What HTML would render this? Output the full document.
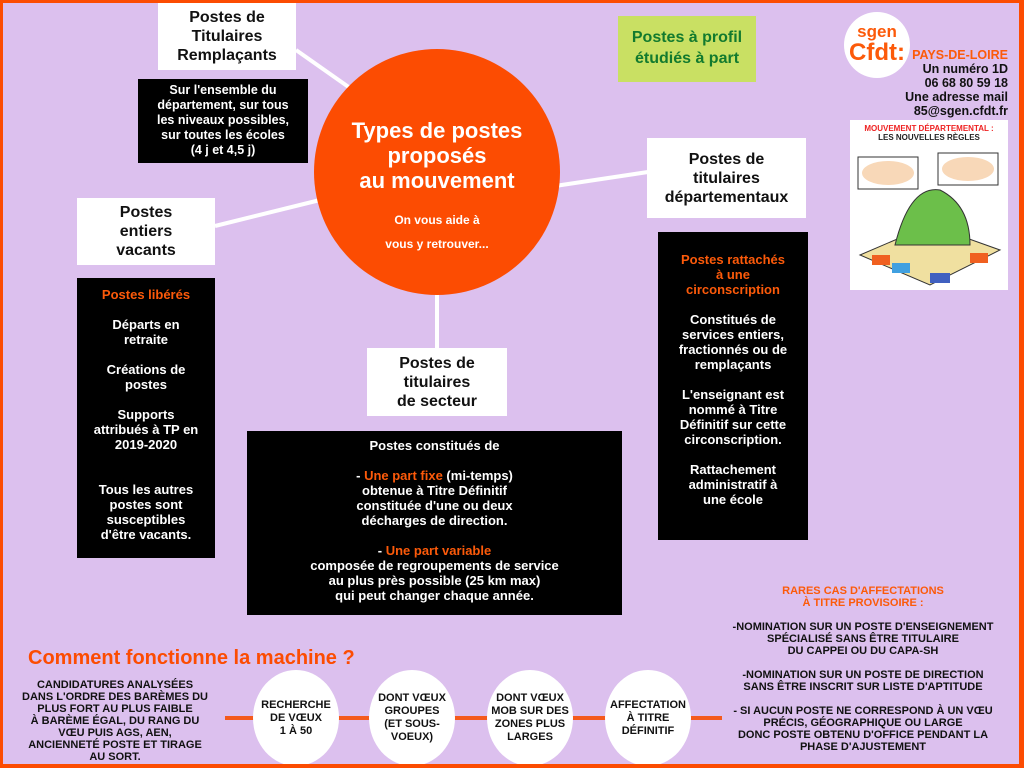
<!DOCTYPE html>
<html><head><meta charset="utf-8"><style>
*{margin:0;padding:0;box-sizing:border-box}
body{width:1024px;height:768px;overflow:hidden;background:#dcc0ee;font-family:"Liberation Sans",sans-serif;font-weight:bold;position:relative}
.frame{position:absolute;left:0;top:0;width:1024px;height:768px;border:3px solid #fc4c02;border-right-width:5px;border-bottom-width:4px}
.a{position:absolute;text-align:center}
.w{background:#fff;color:#111;font-size:16px;line-height:19px;display:flex;align-items:center;justify-content:center}
.k{background:#000;color:#fff;font-size:13px;line-height:15px}
.o{color:#fc5a0a}
.ell{position:absolute;background:#fff;border-radius:50%;width:86px;height:96px;top:670px;display:flex;align-items:center;justify-content:center;font-size:11px;line-height:13px;text-align:center;color:#111}
.s{font-size:11px;line-height:12px;color:#111}
</style></head><body>
<svg style="position:absolute;left:0;top:0" width="1024" height="768">
<g stroke="#fff" stroke-width="4">
<line x1="296" y1="50" x2="350" y2="88"/>
<line x1="215" y1="226" x2="320" y2="200"/>
<line x1="555" y1="186" x2="648" y2="172"/>
<line x1="437" y1="290" x2="437" y2="350"/>
</g>
<line x1="225" y1="718" x2="722" y2="718" stroke="#f45a1c" stroke-width="4"/>
<circle cx="437" cy="172" r="123" fill="#fc4c02"/>
</svg>
<div class="a" style="left:314px;top:118px;width:246px;color:#fff;font-size:22px;line-height:25px">Types de postes<br>proposés<br>au mouvement</div>
<div class="a" style="left:314px;top:208px;width:246px;color:#fff;font-size:12px;line-height:24px">On vous aide à<br>vous y retrouver...</div>

<div class="a w" style="left:158px;top:3px;width:138px;height:67px">Postes de<br>Titulaires<br>Remplaçants</div>
<div class="a k" style="left:138px;top:79px;width:170px;height:84px;padding-top:4px;font-size:12.5px">Sur l'ensemble du<br>département, sur tous<br>les niveaux possibles,<br>sur toutes les écoles<br>(4 j et 4,5 j)</div>

<div class="a w" style="left:77px;top:198px;width:138px;height:67px">Postes<br>entiers<br>vacants</div>
<div class="a k" style="left:77px;top:278px;width:138px;height:280px;padding:9px 6px 0">
<div class="o">Postes libérés</div><br>
<div>Départs en<br>retraite</div><br>
<div>Créations de<br>postes</div><br>
<div>Supports<br>attribués à TP en<br>2019-2020</div><br><br>
<div>Tous les autres<br>postes sont<br>susceptibles<br>d'être vacants.</div></div>

<div class="a w" style="left:367px;top:348px;width:140px;height:68px">Postes de<br>titulaires<br>de secteur</div>
<div class="a k" style="left:247px;top:431px;width:375px;height:184px;padding-top:7px">Postes constitués de<br><br>- <span class="o">Une part fixe</span> (mi-temps)<br>obtenue à Titre Définitif<br>constituée d'une ou deux<br>décharges de direction.<br><br>- <span class="o">Une part variable</span><br>composée de regroupements de service<br>au plus près possible (25 km max)<br>qui peut changer chaque année.</div>

<div class="a w" style="left:647px;top:138px;width:159px;height:80px">Postes de<br>titulaires<br>départementaux</div>
<div class="a k" style="left:658px;top:232px;width:150px;height:308px;padding:20px 4px 0">
<div class="o">Postes rattachés<br>à une<br>circonscription</div><br>
<div>Constitués de<br>services entiers,<br>fractionnés ou de<br>remplaçants</div><br>
<div>L'enseignant est<br>nommé à Titre<br>Définitif sur cette<br>circonscription.</div><br>
<div>Rattachement<br>administratif à<br>une école</div></div>

<div class="a" style="left:618px;top:16px;width:138px;height:66px;background:#c9e063;color:#127a2e;font-size:16px;line-height:21px;padding-top:11px">Postes à profil<br>étudiés à part</div>

<div class="a" style="left:844px;top:12px;width:66px;height:66px;border-radius:50%;background:#fff;color:#fc5a0a;font-size:17px;line-height:18px;padding-top:11px">sgen<br><span style="font-size:24px;line-height:24px">Cfdt:</span></div>
<div class="a" style="left:900px;top:48px;width:108px;text-align:right;font-size:12.5px;line-height:14px;color:#111"><span class="o">PAYS-DE-LOIRE</span><br>Un numéro 1D<br>06 68 80 59 18<br>Une adresse mail<br>85@sgen.cfdt.fr</div>
<div class="a" style="left:850px;top:120px;width:158px;height:170px;background:#fff">
<div style="font-size:8px;color:#e22;margin-top:4px">MOUVEMENT DÉPARTEMENTAL :</div>
<div style="font-size:8px;color:#222">LES NOUVELLES RÈGLES</div>
<svg width="158" height="145" style="position:absolute;left:0;top:25px">
<rect x="8" y="12" width="60" height="32" fill="#fff" stroke="#333"/><ellipse cx="38" cy="28" rx="26" ry="12" fill="#f8d8b8"/>
<rect x="88" y="8" width="60" height="32" fill="#fff" stroke="#333"/><ellipse cx="118" cy="24" rx="26" ry="12" fill="#f8d8b8"/>
<polygon points="10,110 80,80 150,105 80,140" fill="#f0e0a0" stroke="#333"/>
<path d="M45,100 Q60,40 90,45 Q120,60 120,100 Z" fill="#6cbf4a" stroke="#333"/>
<rect x="22" y="110" width="18" height="10" fill="#f06020"/><rect x="42" y="118" width="18" height="10" fill="#40a0e0"/>
<rect x="120" y="108" width="18" height="10" fill="#f06020"/><rect x="80" y="128" width="20" height="10" fill="#4060c0"/>
</svg></div>

<div class="a o" style="left:28px;top:646px;font-size:20px;line-height:24px;color:#fc4c02;text-align:left">Comment fonctionne la machine ?</div>
<div class="a s" style="left:10px;top:679px;width:210px">CANDIDATURES ANALYSÉES<br>DANS L'ORDRE DES BARÈMES DU<br>PLUS FORT AU PLUS FAIBLE<br>À BARÈME ÉGAL, DU RANG DU<br>VŒU PUIS AGS, AEN,<br>ANCIENNETÉ POSTE ET TIRAGE<br>AU SORT.</div>
<div class="ell" style="left:253px">RECHERCHE<br>DE VŒUX<br>1 À 50</div>
<div class="ell" style="left:369px">DONT VŒUX<br>GROUPES<br>(ET SOUS-<br>VOEUX)</div>
<div class="ell" style="left:487px">DONT VŒUX<br>MOB SUR DES<br>ZONES PLUS<br>LARGES</div>
<div class="ell" style="left:605px">AFFECTATION<br>À TITRE<br>DÉFINITIF</div>

<div class="a s" style="left:716px;top:585px;width:294px"><span class="o">RARES CAS D'AFFECTATIONS<br>À TITRE PROVISOIRE :</span><br><br>-NOMINATION SUR UN POSTE D'ENSEIGNEMENT<br>SPÉCIALISÉ SANS ÊTRE TITULAIRE<br>DU CAPPEI OU DU CAPA-SH<br><br>-NOMINATION SUR UN POSTE DE DIRECTION<br>SANS ÊTRE INSCRIT SUR LISTE D'APTITUDE<br><br>- SI AUCUN POSTE NE CORRESPOND À UN VŒU<br>PRÉCIS, GÉOGRAPHIQUE OU LARGE<br>DONC POSTE OBTENU D'OFFICE PENDANT LA<br>PHASE D'AJUSTEMENT</div>
<div class="frame"></div>
</body></html>
